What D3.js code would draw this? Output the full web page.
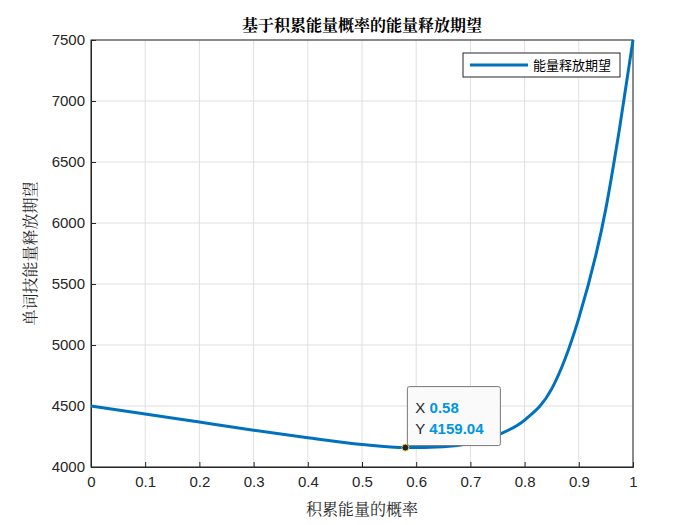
<!DOCTYPE html>
<html><head><meta charset="utf-8">
<script src="https://cdn.jsdelivr.net/npm/d3@7"></script>
<style>body{margin:0;background:#fff}</style></head>
<body><svg id="c" width="700" height="525"></svg>
<script>
const xs = [0,0.1,0.2,0.3,0.4,0.5,0.58,0.65,0.7,0.75,0.8,0.85,0.9,0.95,0.975,1];
const ys = [4500,4435,4368,4302,4240,4185,4159.04,4166,4195,4262,4385,4640,5220,6120,6770,7500];
const xTicks = [0,0.1,0.2,0.3,0.4,0.5,0.6,0.7,0.8,0.9,1];
const yTicks = [4000,4500,5000,5500,6000,6500,7000,7500];
const tip = {x:0.58, y:4159.04};

const svg = d3.select("#c");
const L=91,R=633,T=40,B=467;
const x=d3.scaleLinear().domain([0,1]).range([L,R]);
const y=d3.scaleLinear().domain([4000,7500]).range([B,T]);
const font="'Liberation Sans',Arial,sans-serif";
svg.append("rect").attr("x",L).attr("y",T).attr("width",R-L).attr("height",B-T).attr("fill","#fff");
const g=svg.append("g").attr("stroke","#dfdfdf").attr("stroke-width",1);
xTicks.forEach(t=>g.append("line").attr("x1",x(t)).attr("x2",x(t)).attr("y1",T).attr("y2",B));
yTicks.forEach(t=>g.append("line").attr("y1",y(t)).attr("y2",y(t)).attr("x1",L).attr("x2",R));
const xa=svg.append("g").attr("transform",`translate(0,${B})`).call(d3.axisBottom(x).tickValues(xTicks).tickFormat(d=>d).tickSizeOuter(0).tickSize(-5));
const ya=svg.append("g").attr("transform",`translate(${L},0)`).call(d3.axisLeft(y).tickValues(yTicks).tickFormat(d=>d).tickSizeOuter(0).tickSize(-5));
[xa,ya].forEach(a=>{a.selectAll("text").attr("font-family",font).attr("font-size",15).attr("fill","#262626");a.selectAll("line,path").attr("stroke","#262626");});
xa.selectAll("text").attr("dy","1.1em");
ya.selectAll("text").attr("dx","-3");
svg.append("rect").attr("x",L).attr("y",T).attr("width",R-L).attr("height",B-T).attr("fill","none").attr("stroke","#262626");
const data=xs.map((d,i)=>[d,ys[i]]);
svg.append("path").datum(data).attr("d",d3.line().x(d=>x(d[0])).y(d=>y(d[1])).curve(d3.curveMonotoneX))
 .attr("fill","none").attr("stroke","#0072BD").attr("stroke-width",3);
// datatip
svg.append("circle").attr("cx",x(tip.x)).attr("cy",y(tip.y)).attr("r",3.5).attr("fill","#262626").attr("stroke","#e8d060");
const bx=x(tip.x)+2,by=y(tip.y)-61;
svg.append("rect").attr("x",bx).attr("y",by).attr("width",93).attr("height",59).attr("fill","#fafafa").attr("stroke","#777").attr("rx",2);
[["X ",tip.x.toFixed(2)],["Y ",tip.y.toFixed(2)]].forEach((r,i)=>{
 const t=svg.append("text").attr("x",bx+8).attr("y",by+26+i*21).attr("font-family",font).attr("font-size",15).attr("fill","#262626");
 t.append("tspan").text(r[0]);
 t.append("tspan").attr("font-weight","bold").attr("fill","#0095e0").text(r[1]);
});
// legend
svg.append("rect").attr("x",463).attr("y",53).attr("width",157).attr("height",24).attr("fill","#fff").attr("stroke","#262626");
svg.append("line").attr("x1",470).attr("x2",528).attr("y1",65).attr("y2",65).attr("stroke","#0072BD").attr("stroke-width",3);
svg.append("text").attr("x",533).attr("y",70).attr("font-family","'Noto Sans CJK SC'").attr("font-size",13).attr("fill","#000").text("能量释放期望");
const cjk="'Noto Serif CJK SC','Noto Sans CJK SC',sans-serif";
svg.append("text").attr("x",(L+R)/2).attr("y",31).attr("text-anchor","middle").attr("font-family",cjk).attr("font-weight","bold").attr("font-size",16).attr("fill","#000").text("基于积累能量概率的能量释放期望");
svg.append("text").attr("x",(L+R)/2).attr("y",515).attr("text-anchor","middle").attr("font-family",cjk).attr("font-size",16).attr("fill","#262626").text("积累能量的概率");
svg.append("text").attr("transform",`translate(36,${(T+B)/2}) rotate(-90)`).attr("text-anchor","middle").attr("font-family",cjk).attr("font-size",16).attr("fill","#262626").text("单词技能量释放期望");
</script></body></html>
